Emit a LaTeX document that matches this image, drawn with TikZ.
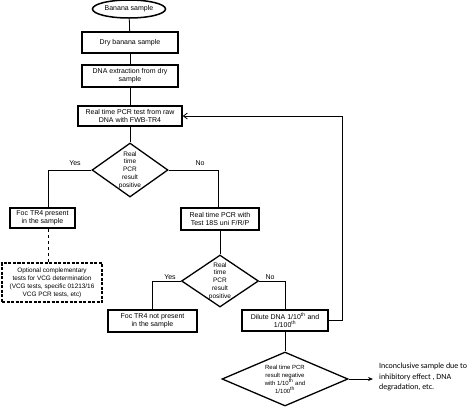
\documentclass[tikz,border=0pt]{standalone}
\usepackage{fontspec}
\setmainfont{Liberation Sans}
\newfontfamily\notefont{Carlito}
\usetikzlibrary{shapes.geometric,arrows.meta}
\tikzset{
  every node/.style={font=\fontsize{7}{8}\selectfont},
  box/.style={draw, line width=1.5pt, align=center, inner sep=1pt},
  dbox/.style={draw, line width=1.3pt, dash pattern=on 3pt off 1.5pt, align=center, inner sep=1pt},
  dia/.style={draw, line width=1.3pt, shape=diamond, inner sep=0pt},
  dtext/.style={align=center, inner sep=0pt},
  lbl/.style={inner sep=0pt},
  conn/.style={line width=0.8pt},
}
\begin{document}
\begin{tikzpicture}[x=1pt,y=-1pt]
\useasboundingbox[fill=white] (0,0) rectangle (474,408);
% nodes
\node[draw, line width=1.5pt, ellipse, minimum width=73pt, minimum height=18pt, inner sep=0pt] (start) at (129,9) {Banana sample};
\node[box, minimum width=96pt, minimum height=21pt] (dry) at (130,42.5) {Dry banana sample};
\node[box, minimum width=96pt, minimum height=22pt] (dna) at (130,76) {DNA extraction from dry\\sample};
\node[box, minimum width=104pt, minimum height=20pt] (pcr) at (130,116) {Real time PCR test from raw\\DNA with FWB-TR4};
\node[dia, minimum width=76pt, minimum height=54pt] (d1) at (130,170) {};
\node[dtext, font=\fontsize{6.5}{7.8}\selectfont] (d1t) at (d1.center) {Real\\time\\PCR\\result\\positive};
\node[box, minimum width=65pt, minimum height=20pt] (yesb) at (42.5,218) {Foc TR4 present\\in the sample};
\node[dbox, minimum width=100pt, minimum height=39pt, font=\fontsize{6.4}{8}\selectfont] (opt) at (52,282.5) {Optional complementary\\tests for VCG determination\\(VCG tests, specific 01213/16\\VCG PCR tests, etc)};
\node[box, minimum width=78pt, minimum height=22pt] (nob) at (220,219) {Real time PCR with\\Test 18S uni F/R/P};
\node[dia, minimum width=77pt, minimum height=52pt] (d2) at (220,281) {};
\node[dtext, font=\fontsize{6.5}{7.8}\selectfont] (d2t) at (d2.center) {Real\\time\\PCR\\result\\positive};
\node[box, minimum width=89pt, minimum height=22pt] (notp) at (152.5,321) {Foc TR4 not present\\in the sample};
\node[box, minimum width=86pt, minimum height=21pt] (dil) at (285,320.5) {Dilute DNA 1/10\textsuperscript{th} and\\1/100\textsuperscript{th}};
\node[dia, minimum width=126pt, minimum height=54pt] (d3) at (285,379) {};
\node[dtext, font=\fontsize{6}{8}\selectfont] (d3t) at (d3.center) {Real time PCR\\result negative\\with 1/10\textsuperscript{th} and\\1/100\textsuperscript{th}};
\node[anchor=west, align=left, inner sep=0pt, font=\notefont\fontsize{8}{10.5}\selectfont] (inc) at (379,377) {Inconclusive sample due to\\inhibitory effect , DNA\\degradation, etc.};
\coordinate (loopx) at (342,0);
\coordinate (incend) at (373,379);
% labels
\node[lbl] (yes1) at (75,163) {Yes};
\node[lbl] (no1) at (200,163) {No};
\node[lbl] (yes2) at (170,277) {Yes};
\node[lbl] (no2) at (270,277) {No};
% connectors
\draw[conn] (start) -- (dry);
\draw[conn] (dry) -- (dna);
\draw[conn] (dna) -- (pcr);
\draw[conn] (pcr) -- (d1);
\draw[conn] (d1.west) -| ([xshift=5.5pt]yesb.north);
\draw[conn, dashed] ([xshift=5.5pt]yesb.south) -- ([xshift=5.5pt]yesb.south |- opt.north);
\draw[conn] (d1.east) -| ([xshift=-2pt]nob.north);
\draw[conn] (nob) -- (d2);
\draw[conn] (d2.west) -| (notp.north);
\draw[conn] (d2.east) -| (dil.north);
\draw[conn] (dil) -- (d3);
\draw[conn, -{Straight Barb[length=4pt,width=6pt]}] (dil.east) -- (dil.east -| loopx) -- (pcr.east -| loopx) -- (pcr.east);
\draw[conn, -{Stealth[length=5pt,width=4pt]}] (d3.east) -- (incend);
\end{tikzpicture}
\end{document}
